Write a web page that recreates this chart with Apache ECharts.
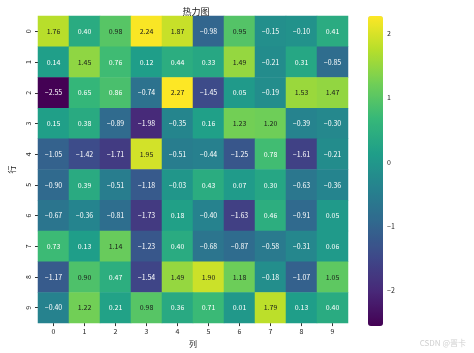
<!DOCTYPE html>
<html><head><meta charset="utf-8">
<script src="https://cdn.jsdelivr.net/npm/echarts@6/dist/echarts.min.js"></script>
<style>html,body{margin:0;padding:0;background:#fff}#c{width:474px;height:353px}</style>
</head><body><div id="c"></div>
<script>
const xCategories = ['0','1','2','3','4','5','6','7','8','9'];
const yCategories = ['0','1','2','3','4','5','6','7','8','9'];
const row0 = [1.76, 0.40, 0.98, 2.24, 1.87, -0.98, 0.95, -0.15, -0.10, 0.41];
const row1 = [0.14, 1.45, 0.76, 0.12, 0.44, 0.33, 1.49, -0.21, 0.31, -0.85];
const row2 = [-2.55, 0.65, 0.86, -0.74, 2.27, -1.45, 0.05, -0.19, 1.53, 1.47];
const row3 = [0.15, 0.38, -0.89, -1.98, -0.35, 0.16, 1.23, 1.20, -0.39, -0.30];
const row4 = [-1.05, -1.42, -1.71, 1.95, -0.51, -0.44, -1.25, 0.78, -1.61, -0.21];
const row5 = [-0.90, 0.39, -0.51, -1.18, -0.03, 0.43, 0.07, 0.30, -0.63, -0.36];
const row6 = [-0.67, -0.36, -0.81, -1.73, 0.18, -0.40, -1.63, 0.46, -0.91, 0.05];
const row7 = [0.73, 0.13, 1.14, -1.23, 0.40, -0.68, -0.87, -0.58, -0.31, 0.06];
const row8 = [-1.17, 0.90, 0.47, -1.54, 1.49, 1.90, 1.18, -0.18, -1.07, 1.05];
const row9 = [-0.40, 1.22, 0.21, 0.98, 0.36, 0.71, 0.01, 1.79, 0.13, 0.40];
const colorbarTicks = [-2, -1, 0, 1, 2];
const vMin = -2.55, vMax = 2.27;

const rows = [row0,row1,row2,row3,row4,row5,row6,row7,row8,row9];
const data = [];
rows.forEach((r, yi) => r.forEach((v, xi) => {
  data.push({value: [xi, yi, v], label: {color: v > 0.88 ? '#1a1a1a' : '#ffffff'}});
}));

const viridis = ['#440154','#482878','#3e4989','#31688e','#26828e','#1f9e89','#35b779','#6ece58','#b5de2b','#fde725'];
const FONT = '"Noto Sans CJK SC", "DejaVu Sans", sans-serif';

const chart = echarts.init(document.getElementById('c'), null, {renderer: 'canvas'});
chart.setOption({
  backgroundColor: '#fff',
  animation: false,
  textStyle: {fontFamily: FONT},
  title: {text: '热力图', left: 191, textAlign: 'center', top: 2,
    textStyle: {fontSize: 9, fontWeight: 'normal', color: '#1a1a1a', fontFamily: FONT}},
  grid: [
    {left: 35, top: 16, width: 313, height: 310, containLabel: false},
    {left: 368, top: 16, width: 15, height: 310, containLabel: false}
  ],
  xAxis: [
    {type: 'category', data: xCategories, gridIndex: 0, position: 'bottom',
      axisLine: {show: false}, axisTick: {show: true, alignWithLabel: true, length: 3, lineStyle: {color: '#333'}},
      axisLabel: {fontSize: 7, color: '#222', margin: 5, fontFamily: FONT},
      splitLine: {show: false}, splitArea: {show: false},
      name: '列', nameLocation: 'middle', nameGap: 16, nameTextStyle: {fontSize: 8, color: '#222', fontFamily: FONT}},
    {type: 'value', gridIndex: 1, show: false}
  ],
  yAxis: [
    {type: 'category', data: yCategories, gridIndex: 0, inverse: true,
      axisLine: {show: false}, axisTick: {show: true, alignWithLabel: true, length: 3, lineStyle: {color: '#333'}},
      axisLabel: {fontSize: 7, color: '#222', margin: 6, rotate: 90, fontFamily: FONT},
      splitLine: {show: false},
      name: '行', nameLocation: 'middle', nameGap: 22, nameRotate: 90, nameTextStyle: {fontSize: 8, color: '#222', fontFamily: FONT}},
    {type: 'value', gridIndex: 1, position: 'right', min: vMin, max: vMax,
      axisLine: {show: false},
      axisLabel: {fontSize: 7, color: '#222', margin: 4, fontFamily: FONT,
        customValues: colorbarTicks, formatter: v => (v < 0 ? '\u2212' + Math.abs(v) : String(v))},
      axisTick: {show: true, length: 3, customValues: colorbarTicks, lineStyle: {color: '#333'}},
      splitLine: {show: false}}
  ],
  visualMap: {
    type: 'continuous', min: vMin, max: vMax, calculable: false, seriesIndex: 0,
    orient: 'vertical', left: 363, top: 11, itemWidth: 15, itemHeight: 310,
    text: null, showLabel: false, padding: 5, hoverLink: false, borderRadius: 0,
    inRange: {color: viridis}
  },
  series: [{
    type: 'heatmap', xAxisIndex: 0, yAxisIndex: 0, data: data,
    itemStyle: {borderWidth: 0},
    label: {show: true, fontSize: 7, fontFamily: FONT,
      formatter: p => { const v = p.value[2]; return (v < 0 ? '\u2212' : '') + Math.abs(v).toFixed(2); }},
    emphasis: {disabled: true}
  }],
  graphic: [{type: 'text', right: 8, bottom: 6, style: {text: 'CSDN @晋卡', fontSize: 8, fill: '#d0d0d0', fontFamily: FONT}}]
});
</script>
</body></html>
